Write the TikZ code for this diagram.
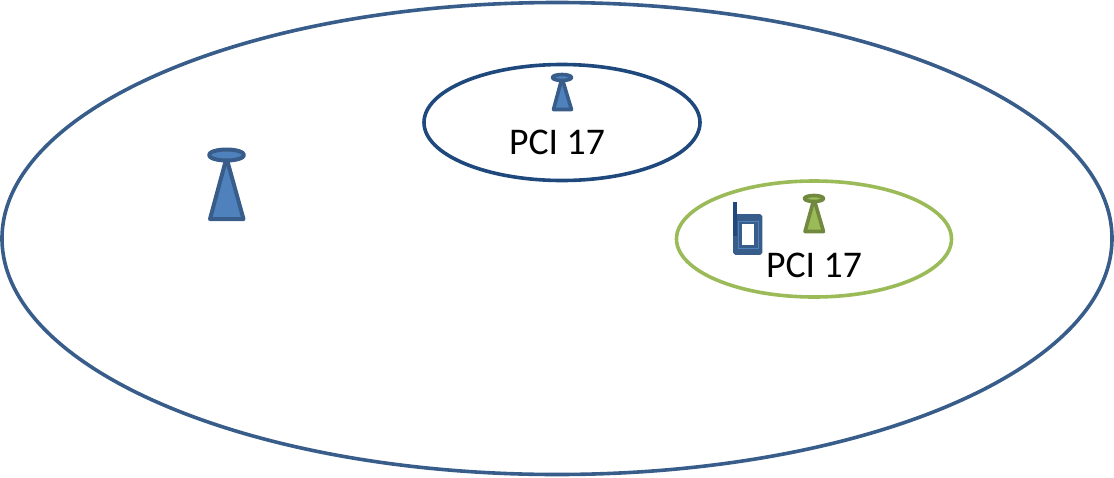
\documentclass[tikz,border=0pt]{standalone}
\usepackage{fontspec}
\setmainfont{Carlito}
\definecolor{cellblue}{HTML}{385D8A}
\definecolor{darkcell}{HTML}{1F497D}
\definecolor{cellgreen}{HTML}{9BBB59}
\definecolor{towerfill}{HTML}{4F81BD}
\definecolor{greenfill}{HTML}{9BBB59}
\definecolor{greenline}{HTML}{71893F}
\tikzset{
  x=1pt,y=-1pt,
  cell/.style={draw,line width=3.6pt,fill=none},
  towerblue/.style={draw=cellblue,fill=towerfill,line join=round},
  towergreen/.style={draw=greenline,fill=greenfill,line join=round},
  pci/.style={font=\fontsize{37.7}{42}\selectfont,inner sep=0pt,text=black}
}
\begin{document}
\begin{tikzpicture}
\useasboundingbox (0,0) rectangle (1114,477);
\draw[cell,draw=cellblue] (557,238.5) ellipse [x radius=555,y radius=236];
\draw[cell,draw=darkcell] (562,122.5) ellipse [x radius=138,y radius=58];
\draw[cell,draw=cellgreen] (814,239) ellipse [x radius=137.5,y radius=58];
% large tower
\draw[towerblue,line width=4pt] (226.5,158) -- (210,219) -- (243.5,219) -- cycle;
\draw[towerblue,line width=4pt] (226.5,155) ellipse [x radius=17.5,y radius=5.5];
% small blue tower
\draw[towerblue,line width=3.6pt] (562,78) -- (553.5,109.5) -- (571.5,109.5) -- cycle;
\draw[towerblue,line width=3.6pt] (562,77.5) ellipse [x radius=9.5,y radius=3];
% green tower
\draw[towergreen,line width=3.6pt] (814,199) -- (805,231.5) -- (823.5,231.5) -- cycle;
\draw[towergreen,line width=3.6pt] (814,198.5) ellipse [x radius=9.5,y radius=3];
% phone
\draw[draw=cellblue,fill=cellblue,line width=3.6pt,rounded corners=1pt] (735,216) rectangle (760.5,253);
\draw[draw=towerfill,line width=1pt] (738,221) rectangle (758,248);
\fill[white] (742,224) rectangle (754,245);
\draw[draw=darkcell,line width=4.5pt] (735,202) -- (735,236);
\node[pci] (label1) at (557,142) {PCI 17};
\node[pci] (label2) at (814,265) {PCI 17};
\end{tikzpicture}
\end{document}
